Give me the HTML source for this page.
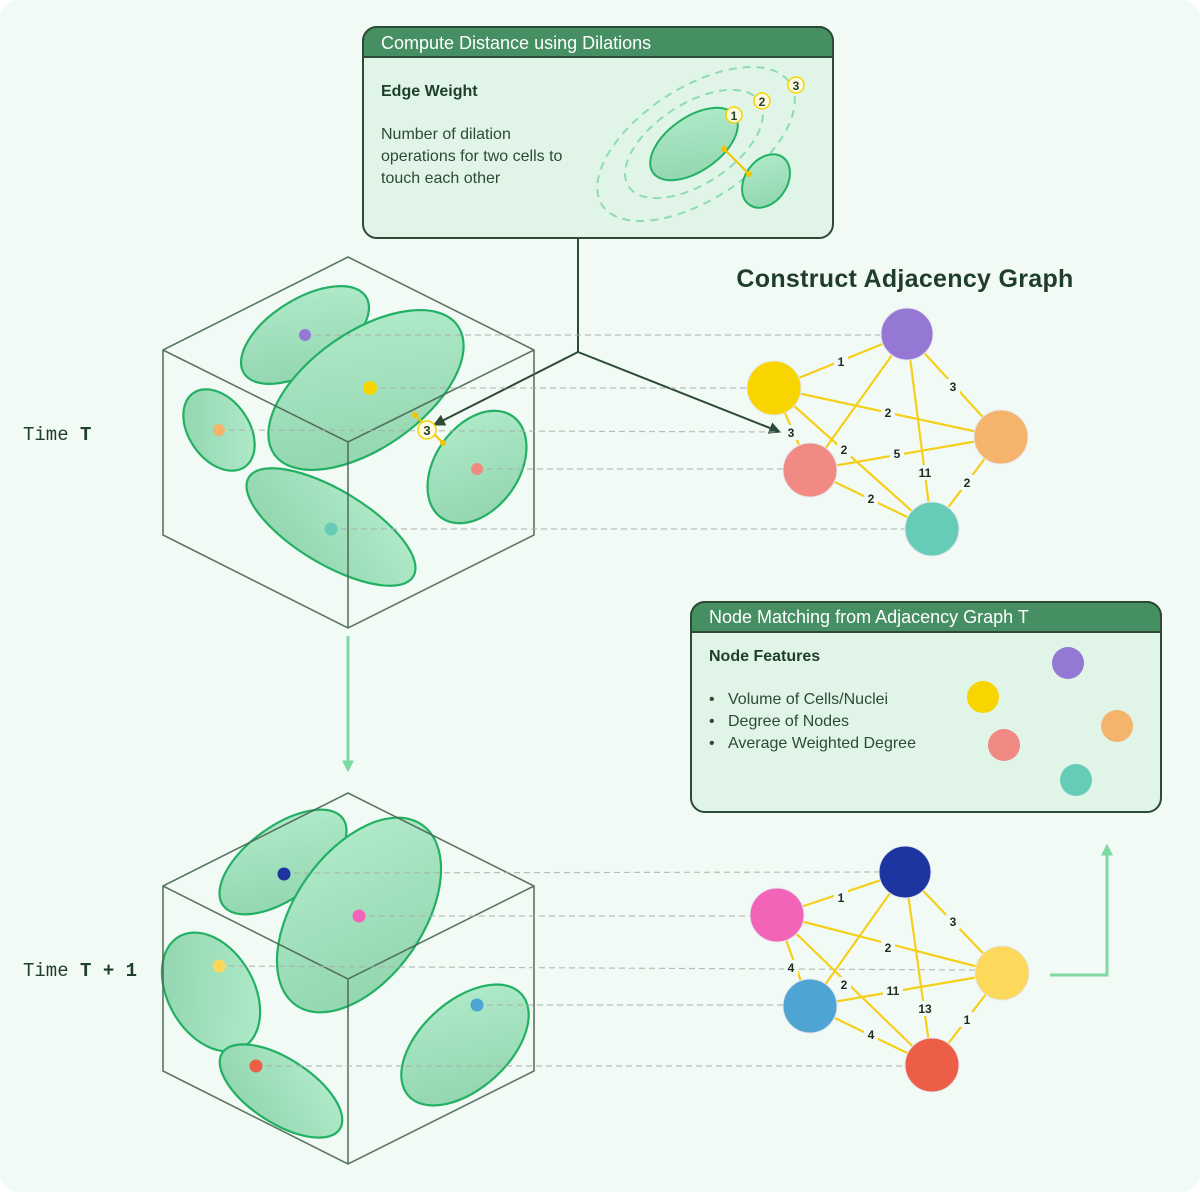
<!DOCTYPE html>
<html><head><meta charset="utf-8"><style>
html,body{margin:0;padding:0;background:#fff;}
svg{display:block;}
text{font-family:"Liberation Sans",sans-serif;}
</style></head><body>
<svg width="1200" height="1192" viewBox="0 0 1200 1192" xmlns="http://www.w3.org/2000/svg">
<defs>
<linearGradient id="cg" x1="0" y1="1" x2="1" y2="0">
<stop offset="0" stop-color="#8ed3ab"/><stop offset="1" stop-color="#b4edcd"/></linearGradient>
<marker id="ah" viewBox="0 0 10 10" refX="9" refY="5" markerWidth="6" markerHeight="6" orient="auto"><path d="M0,0 L10,5 L0,10 z" fill="#2c4a36"/></marker>
<marker id="gh" viewBox="0 0 10 10" refX="8" refY="5" markerWidth="4" markerHeight="4" orient="auto"><path d="M0,0 L10,5 L0,10 z" fill="#7dd8a2"/></marker>
</defs>
<rect x="0" y="0" width="1200" height="1192" rx="18" fill="#f2faf5"/>

<!-- top box -->
<rect x="363" y="27" width="470" height="211" rx="14" fill="#e0f5e8" stroke="#2c4a36" stroke-width="2"/>
<path d="M363,57 V41 a14,14 0 0 1 14,-14 H819 a14,14 0 0 1 14,14 V57 Z" fill="#458f63" stroke="#2c4a36" stroke-width="2"/>
<text x="381" y="49" font-size="18" fill="#fff">Compute Distance using Dilations</text>
<text x="381" y="96" font-size="16" font-weight="bold" fill="#1e3d2a">Edge Weight</text>
<text font-size="16" fill="#2c4a36"><tspan x="381" y="139">Number of dilation</tspan><tspan x="381" y="161">operations for two cells to</tspan><tspan x="381" y="183">touch each other</tspan></text>
<g fill="none" stroke="#8fdcb0" stroke-width="2" stroke-dasharray="8,6">
<ellipse cx="696" cy="144" rx="112" ry="56" transform="rotate(-33 696 144)"/>
<ellipse cx="694" cy="144" rx="78" ry="40" transform="rotate(-33 694 144)"/>
</g>
<ellipse cx="694" cy="144" rx="50" ry="27" transform="rotate(-35 694 144)" fill="url(#cg)" stroke="#22b063" stroke-width="2"/>
<ellipse cx="766" cy="181" rx="29" ry="21" transform="rotate(-55 766 181)" fill="url(#cg)" stroke="#22b063" stroke-width="2"/>
<line x1="724" y1="149" x2="749" y2="174" stroke="#f2c500" stroke-width="2"/>
<circle cx="724" cy="149" r="3" fill="#f2c500"/><circle cx="749" cy="174" r="3" fill="#f2c500"/>
<g font-size="12" font-weight="bold" fill="#1e3d2a" text-anchor="middle">
<circle cx="734" cy="115" r="8" fill="#fffbe0" stroke="#f5d400" stroke-width="1.5"/><text x="734" y="120">1</text>
<circle cx="762" cy="101" r="8" fill="#fffbe0" stroke="#f5d400" stroke-width="1.5"/><text x="762" y="106">2</text>
<circle cx="796" cy="85" r="8" fill="#fffbe0" stroke="#f5d400" stroke-width="1.5"/><text x="796" y="90">3</text>
</g>

<!-- connector -->
<path d="M578,238 V352" stroke="#2c4a36" stroke-width="2" fill="none"/>
<line x1="578" y1="352" x2="434" y2="425" stroke="#2c4a36" stroke-width="2" marker-end="url(#ah)"/>
<line x1="578" y1="352" x2="780" y2="432" stroke="#2c4a36" stroke-width="2" marker-end="url(#ah)"/>

<text x="905" y="287" font-size="25" font-weight="bold" fill="#1e3d2a" text-anchor="middle" letter-spacing="0.3">Construct Adjacency Graph</text>

<!-- Time labels -->
<text x="23" y="440" font-size="19" fill="#1e3d2a" style="font-family:'Liberation Mono',monospace">Time <tspan font-weight="bold">T</tspan></text>
<text x="23" y="976" font-size="19" fill="#1e3d2a" style="font-family:'Liberation Mono',monospace">Time <tspan font-weight="bold">T + 1</tspan></text>

<!-- top cube cells -->
<g fill="url(#cg)" stroke="#22b063" stroke-width="2.2">
<ellipse cx="305" cy="335" rx="72" ry="36" transform="rotate(-32 305 335)"/>
<ellipse cx="366" cy="390" rx="112" ry="58" transform="rotate(-35 366 390)"/>
<ellipse cx="219" cy="430" rx="45" ry="30" transform="rotate(55 219 430)"/>
<ellipse cx="477" cy="467" rx="62" ry="42" transform="rotate(-55 477 467)"/>
<ellipse cx="331" cy="527" rx="96" ry="37" transform="rotate(31 331 527)"/>
</g>
<g fill="none" stroke="#4a6652" stroke-width="1.6" opacity="0.9">
<path d="M348,257 L534,350 L534,535 L348,628 L163,535 L163,350 Z M163,350 L348,442 L534,350 M348,442 L348,628"/>
</g>

<!-- bottom cube cells -->
<g fill="url(#cg)" stroke="#22b063" stroke-width="2.2">
<ellipse cx="283" cy="862" rx="74" ry="36" transform="rotate(-36 283 862)"/>
<ellipse cx="359" cy="915" rx="110" ry="64" transform="rotate(-55 359 915)"/>
<ellipse cx="211" cy="992" rx="64" ry="43" transform="rotate(60 211 992)"/>
<ellipse cx="281" cy="1091" rx="70" ry="32" transform="rotate(33 281 1091)"/>
<ellipse cx="465" cy="1045" rx="76" ry="44" transform="rotate(-42 465 1045)"/>
</g>
<g fill="none" stroke="#4a6652" stroke-width="1.6" opacity="0.9">
<path d="M348,793 L534,886 L534,1071 L348,1164 L163,1071 L163,886 Z M163,886 L348,979 L534,886 M348,979 L348,1164"/>
</g>

<!-- dashed guides -->
<g stroke="#a9b0ab" stroke-width="1.2" stroke-dasharray="6,4" opacity="0.8">
<line x1="305" y1="335" x2="880" y2="335"/><line x1="370" y1="388" x2="750" y2="388"/>
<line x1="219" y1="430" x2="780" y2="432"/><line x1="477" y1="469" x2="785" y2="469"/>
<line x1="331" y1="529" x2="905" y2="529"/>
<line x1="284" y1="873" x2="880" y2="872"/><line x1="359" y1="916" x2="750" y2="916"/>
<line x1="219" y1="966" x2="975" y2="970"/><line x1="477" y1="1005" x2="785" y2="1005"/>
<line x1="256" y1="1066" x2="905" y2="1066"/>
</g>

<circle cx="305" cy="335" r="6" fill="#9478d4"/><circle cx="370" cy="388" r="7" fill="#f8d400"/>
<circle cx="219" cy="430" r="6" fill="#f4b46c"/><circle cx="477" cy="469" r="6" fill="#f28a84"/>
<circle cx="331" cy="529" r="6.5" fill="#66ccb8"/>
<line x1="415" y1="415" x2="443" y2="443" stroke="#f2c500" stroke-width="2"/>
<circle cx="415" cy="415" r="3" fill="#f2c500"/><circle cx="443" cy="443" r="3" fill="#f2c500"/>
<circle cx="427" cy="430" r="9" fill="#fffbe0" stroke="#f5d400" stroke-width="1.5"/>
<text x="427" y="435" font-size="13" font-weight="bold" fill="#1e3d2a" text-anchor="middle">3</text>

<circle cx="284" cy="874" r="6.5" fill="#1c35a0"/><circle cx="359" cy="916" r="6.5" fill="#f264b8"/>
<circle cx="219" cy="966" r="6.5" fill="#fcd95a"/><circle cx="477" cy="1005" r="6.5" fill="#4ea4d2"/>
<circle cx="256" cy="1066" r="6.5" fill="#ec5e46"/>

<!-- down arrow -->
<line x1="348" y1="636" x2="348" y2="770" stroke="#7dd8a2" stroke-width="3" marker-end="url(#gh)"/>

<!-- top graph -->
<g stroke="#f5cf1a" stroke-width="2.2">
<line x1="774" y1="388" x2="907" y2="334"/><line x1="907" y1="334" x2="1001" y2="437"/>
<line x1="774" y1="388" x2="1001" y2="437"/><line x1="774" y1="388" x2="810" y2="470"/>
<line x1="774" y1="388" x2="932" y2="529"/><line x1="810" y1="470" x2="907" y2="334"/>
<line x1="810" y1="470" x2="1001" y2="437"/><line x1="907" y1="334" x2="932" y2="529"/>
<line x1="1001" y1="437" x2="932" y2="529"/><line x1="810" y1="470" x2="932" y2="529"/>
</g>
<g font-size="12" font-weight="bold" fill="#1e2a22" text-anchor="middle">
<g fill="#f2faf5"><rect x="834" y="354" width="14" height="15"/><rect x="946" y="379" width="14" height="15"/><rect x="881" y="405" width="14" height="15"/><rect x="784" y="425" width="14" height="15"/><rect x="837" y="442" width="14" height="15"/><rect x="890" y="446" width="14" height="15"/><rect x="915" y="465" width="20" height="15"/><rect x="960" y="475" width="14" height="15"/><rect x="864" y="491" width="14" height="15"/></g>
<text x="841" y="366">1</text><text x="953" y="391">3</text><text x="888" y="417">2</text><text x="791" y="437">3</text><text x="844" y="454">2</text><text x="897" y="458">5</text><text x="925" y="477">11</text><text x="967" y="487">2</text><text x="871" y="503">2</text>
</g>
<circle cx="907" cy="334" r="26" fill="#9478d4" stroke="#e6e6ee" stroke-width="1"/>
<circle cx="774" cy="388" r="27" fill="#f8d400" stroke="#e6e6ee" stroke-width="1"/>
<circle cx="1001" cy="437" r="27" fill="#f4b46c" stroke="#e6e6ee" stroke-width="1"/>
<circle cx="810" cy="470" r="27" fill="#f28a84" stroke="#e6e6ee" stroke-width="1"/>
<circle cx="932" cy="529" r="27" fill="#66ccb8" stroke="#e6e6ee" stroke-width="1"/>

<!-- node matching box -->
<rect x="691" y="602" width="470" height="210" rx="14" fill="#e0f5e8" stroke="#2c4a36" stroke-width="2"/>
<path d="M691,632 V616 a14,14 0 0 1 14,-14 H1147 a14,14 0 0 1 14,14 V632 Z" fill="#458f63" stroke="#2c4a36" stroke-width="2"/>
<text x="709" y="623" font-size="18" fill="#fff">Node Matching from Adjacency Graph T</text>
<text x="709" y="661" font-size="16" font-weight="bold" fill="#1e3d2a">Node Features</text>
<g font-size="16" fill="#2c4a36">
<text x="709" y="704">•</text><text x="728" y="704">Volume of Cells/Nuclei</text>
<text x="709" y="726">•</text><text x="728" y="726">Degree of Nodes</text>
<text x="709" y="748">•</text><text x="728" y="748">Average Weighted Degree</text>
</g>
<circle cx="1068" cy="663" r="16" fill="#9478d4"/><circle cx="983" cy="697" r="16" fill="#f8d400"/>
<circle cx="1117" cy="726" r="16" fill="#f4b46c"/><circle cx="1004" cy="745" r="16" fill="#f28a84"/>
<circle cx="1076" cy="780" r="16" fill="#66ccb8"/>

<!-- bottom graph -->
<g stroke="#f5cf1a" stroke-width="2.2">
<line x1="777" y1="915" x2="905" y2="872"/><line x1="905" y1="872" x2="1002" y2="973"/>
<line x1="777" y1="915" x2="1002" y2="973"/><line x1="777" y1="915" x2="810" y2="1006"/>
<line x1="777" y1="915" x2="932" y2="1065"/><line x1="810" y1="1006" x2="905" y2="872"/>
<line x1="810" y1="1006" x2="1002" y2="973"/><line x1="905" y1="872" x2="932" y2="1065"/>
<line x1="1002" y1="973" x2="932" y2="1065"/><line x1="810" y1="1006" x2="932" y2="1065"/>
</g>
<g font-size="12" font-weight="bold" fill="#1e2a22" text-anchor="middle">
<g fill="#f2faf5"><rect x="834" y="890" width="14" height="15"/><rect x="946" y="914" width="14" height="15"/><rect x="881" y="940" width="14" height="15"/><rect x="784" y="960" width="14" height="15"/><rect x="837" y="977" width="14" height="15"/><rect x="883" y="983" width="20" height="15"/><rect x="915" y="1001" width="20" height="15"/><rect x="960" y="1012" width="14" height="15"/><rect x="864" y="1027" width="14" height="15"/></g>
<text x="841" y="902">1</text><text x="953" y="926">3</text><text x="888" y="952">2</text><text x="791" y="972">4</text><text x="844" y="989">2</text><text x="893" y="995">11</text><text x="925" y="1013">13</text><text x="967" y="1024">1</text><text x="871" y="1039">4</text>
</g>
<circle cx="905" cy="872" r="26" fill="#1c35a0" stroke="#e6e6ee" stroke-width="1"/>
<circle cx="777" cy="915" r="27" fill="#f264b8" stroke="#e6e6ee" stroke-width="1"/>
<circle cx="1002" cy="973" r="27" fill="#fcd95a" stroke="#e6e6ee" stroke-width="1"/>
<circle cx="810" cy="1006" r="27" fill="#4ea4d2" stroke="#e6e6ee" stroke-width="1"/>
<circle cx="932" cy="1065" r="27" fill="#ec5e46" stroke="#e6e6ee" stroke-width="1"/>

<!-- green return arrow -->
<path d="M1050,975 H1107 V846" fill="none" stroke="#7dd8a2" stroke-width="3" marker-end="url(#gh)"/>
</svg>
</body></html>
